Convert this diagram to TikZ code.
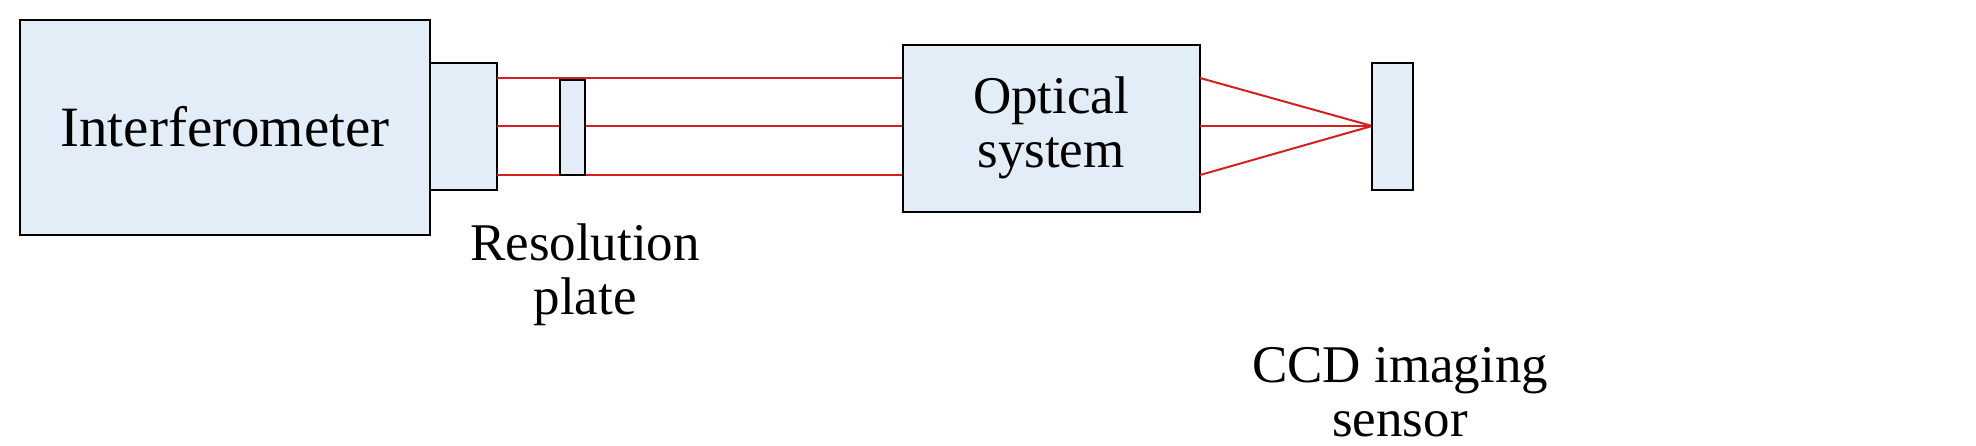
\documentclass[tikz,border=0pt]{standalone}
\usepackage{fontspec}
\setmainfont{Liberation Serif}
\definecolor{boxfill}{HTML}{E3EDF8}
\definecolor{beam}{HTML}{D62020}
\begin{document}
\begin{tikzpicture}[x=1pt,y=-1pt,
  blk/.style={draw=black,line width=2pt,fill=boxfill},
  ray/.style={draw=beam,line width=2pt},
  lbl/.style={font=\fontsize{53}{54}\selectfont,align=center}]
\useasboundingbox (0,0) rectangle (1976,445);
\draw[blk] (20,20) rectangle (430,235);
\node[lbl,font=\fontsize{57}{64}\selectfont] (int) at (225,127) {Interferometer};
\draw[blk] (430,63) rectangle (497,190);
\coordinate (s1) at (497,78); \coordinate (s2) at (497,126); \coordinate (s3) at (497,175);
\coordinate (o1) at (903,78); \coordinate (o2) at (903,126); \coordinate (o3) at (903,175);
\draw[ray] (s1)--(o1); \draw[ray] (s2)--(o2); \draw[ray] (s3)--(o3);
\draw[blk] (560,80) rectangle (585,175);
\draw[blk] (903,45) rectangle (1200,212);
\node[lbl] (opt) at (1051,128) {Optical\\system};
\coordinate (e1) at (1200,78); \coordinate (e2) at (1200,126); \coordinate (e3) at (1200,175);
\coordinate (f) at (1372,126);
\draw[ray] (e1)--(f); \draw[ray] (e2)--(f); \draw[ray] (e3)--(f);
\draw[blk] (1372,63) rectangle (1413,190);
\node[lbl] (res) at (585,275) {Resolution\\plate};
\node[lbl] (ccd) at (1400,392) {CCD imaging\\sensor};
\end{tikzpicture}
\end{document}
